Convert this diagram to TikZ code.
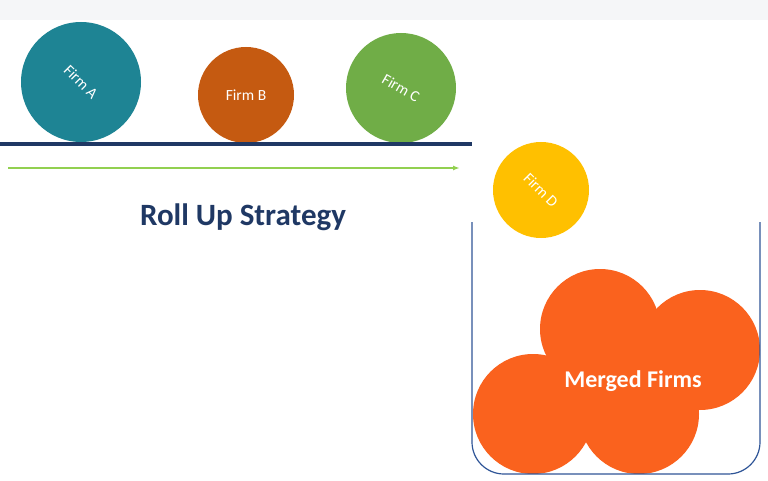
\documentclass[tikz,border=0pt]{standalone}
\usepackage{fontspec}
\setmainfont{Carlito}
\usetikzlibrary{arrows.meta}
\begin{document}
\begin{tikzpicture}[x=1pt,y=-1pt,
  firm/.style={circle,inner sep=0pt,text=white,font=\fontsize{15.5}{18}\selectfont},
  flabel/.style={text=white,font=\fontsize{15.5}{18}\selectfont},
  merged/.style={circle,fill=mergecol,inner sep=0pt,minimum size=120pt}]
\definecolor{mergecol}{HTML}{FA621E}
\useasboundingbox (0,0) rectangle (768,481);
\fill[fill={rgb,255:red,245;green,246;blue,248}] (0,0) rectangle (768,20);
\node[firm,fill={rgb,255:red,30;green,132;blue,148},minimum size=120pt] (A) at (81,82) {};
\node[rotate=-45,flabel] (At) at (A) {Firm A};
\node[firm,fill={rgb,255:red,197;green,90;blue,17},minimum size=96pt] (B) at (246,95) {Firm B};
\node[firm,fill={rgb,255:red,112;green,173;blue,71},minimum size=110pt] (C) at (401,88) {};
\node[rotate=-30,flabel] (Ct) at (C) {Firm C};
\node[firm,fill={rgb,255:red,255;green,192;blue,0},minimum size=96pt] (D) at (541,190) {};
\node[rotate=-45,flabel] (Dt) at (D) {Firm D};
\coordinate (l0) at (0,144); \coordinate (l1) at (472,144);
\draw[line width=4pt,color={rgb,255:red,31;green,56;blue,100}] (l0) -- (l1);
\coordinate (a0) at (8,168); \coordinate (a1) at (460,168);
\draw[line width=1.5pt,color={rgb,255:red,146;green,208;blue,80},-{Latex[length=7pt,width=5pt]}] (a0) -- (a1);
\node[font=\fontsize{31}{36}\selectfont\bfseries,text={rgb,255:red,31;green,56;blue,100}] (T) at (243,217) {Roll Up Strategy};
\node[merged] (m1) at (600,329) {};
\node[merged] (m2) at (700,350) {};
\node[merged] (m3) at (533,414) {};
\node[merged] (m4) at (639,414) {};
\node[text=white,font=\fontsize{24}{28}\selectfont\bfseries] (M) at (633,381) {Merged Firms};
\draw[line width=1.2pt,color={rgb,255:red,47;green,85;blue,151},rounded corners=32pt] (472,222) -- (472,474) -- (760,474) -- (760,222);
\end{tikzpicture}
\end{document}
